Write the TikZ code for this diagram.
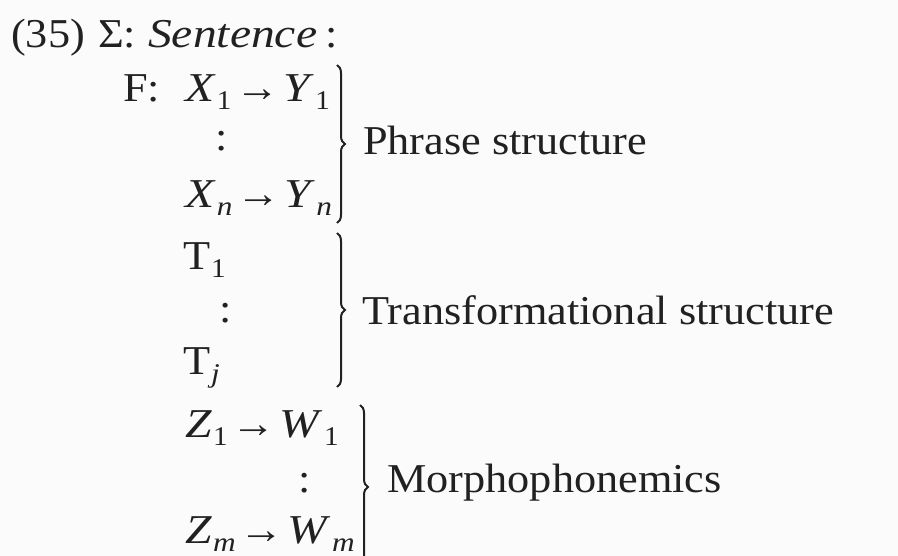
\documentclass[tikz,border=0pt]{standalone}
\usepackage{fontspec}
\setmainfont{Liberation Serif}[FakeStretch=1.08, ItalicFeatures={FakeStretch=1.16}]
\usepackage{tikz}
\usetikzlibrary{positioning}
\usetikzlibrary{decorations.pathreplacing}
\definecolor{ink}{rgb}{0.13,0.13,0.13}
\definecolor{paper}{rgb}{0.985,0.985,0.985}
\newcommand{\sub}[1]{\hspace{1pt}\raisebox{-8pt}{\fontsize{27}{27}\selectfont #1}}
\newcommand{\rto}{\hspace{4pt}→\hspace{4pt}}

\begin{document}
\begin{tikzpicture}[
x = 1pt, y = -1pt,
every node/.style = {inner sep = 0pt, text = ink, font = \fontsize{41}{49}\selectfont},
  line/.style = {anchor = base west},
  vdots/.style = {anchor = base},
  group/.style = {draw = ink, line width = 2pt, decorate,
                  decoration = {brace, amplitude = 8pt}}
]
\fill[paper] (0,0) rectangle (898,556);
\useasboundingbox (0,0) rectangle (898,556);

% heading
\node[line] (num) at (11,48) {(35)};
\node[line] (sigma) at (98,48) {Σ:};
\node[line] (sentence) at (148,48) {\textit{Sentence}\hspace{8pt}:};

% phrase structure rules
\node[line] (f) at (123,102) {F:};
\node[line] (rule1) at (185,102) {\textit{X}\sub{1}\rto\textit{Y}\sub{1}};
\node[vdots] (dots1) at (222,151) {:};
\node[line] (rulen) at (185,208) {\textit{X}\sub{\textit{n}}\rto\textit{Y}\sub{\textit{n}}};

% transformations
\node[line] (t1) at (183,270) {T\sub{1}};
\node[vdots] (dots2) at (226,323) {:};
\node[line] (tj) at (183,375) {T\sub{\textit{j}}};

% morphophonemic rules
\node[line] (mor1) at (185,438) {\textit{Z}\sub{1}\rto\textit{W}\sub{1}};
\node[vdots] (dots3) at (305,492) {:};
\node[line] (morm) at (185,543) {\textit{Z}\sub{\textit{m}}\rto\textit{W}\sub{\textit{m}}};

% braces
\coordinate (top1) at (337,65);
\coordinate (bot1) at (337,223);
\coordinate (top2) at (337,233);
\coordinate (bot2) at (337,387);
\coordinate (top3) at (360,405);
\coordinate (bot3) at (360,569);
\draw[group] (top1) -- (bot1);
\draw[group] (top2) -- (bot2);
\draw[group] (top3) -- (bot3);

\node[line] (phrase) at (363,155) {Phrase structure};
\node[line] (trans) at (362,325) {Transformational structure};
\node[line] (morph) at (387,492) {Morphophonemics};
\end{tikzpicture}
\end{document}
